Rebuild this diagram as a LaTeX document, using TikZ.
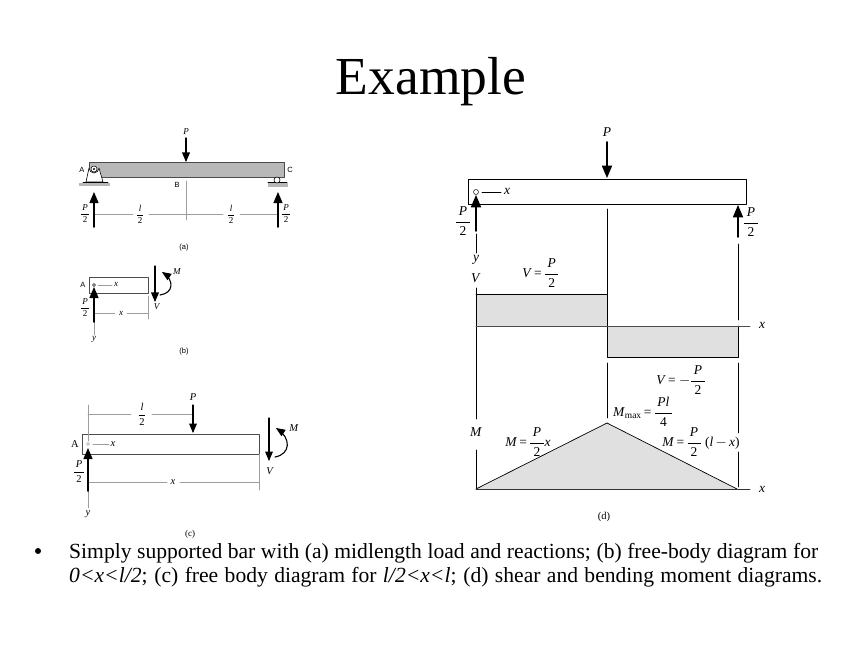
\documentclass[tikz,border=0pt]{standalone}
\usepackage{fontspec}
\setmainfont{Liberation Serif}
\newfontfamily\sanslab{Liberation Sans}
\usepackage{pgf,tikz}
\usetikzlibrary{arrows}
\definecolor{beamgray}{gray}{0.72}
\definecolor{diagramgray}{gray}{0.88}
\definecolor{dimgray}{gray}{0.62}
\newcommand{\fr}[2]{\ensuremath{\displaystyle\frac{\,\textit{#1}\,}{\textrm{#2}}}}
\newcommand{\vv}[1]{\textit{#1}}
\tikzset{
  tiny lab/.style={font=\fontsize{9}{10}\selectfont,inner sep=0pt},
  sans lab/.style={font=\sanslab\fontsize{7.5}{9}\selectfont,inner sep=0pt},
  mid lab/.style={font=\fontsize{10.5}{12}\selectfont,inner sep=0pt},
  big lab/.style={font=\fontsize{13.5}{15}\selectfont,inner sep=0pt},
  dimline/.style={color=dimgray,line width=0.8pt},
  loadarrow/.style={->,line width=1.6pt},
  heavyload/.style={->,line width=1.9pt},
  thinload/.style={->,line width=1.2pt},
  bodytext/.style={font=\fontsize{21.6}{25}\selectfont,inner sep=0pt,anchor=base west}
}
\begin{document}
\begin{tikzpicture}[line cap=round,line join=round,>=triangle 45,x=1pt,y=-1pt]
\useasboundingbox (0,0) rectangle (846,652);
\fill[white] (0,0) rectangle (846,652);
\node[inner sep=0pt,font=\fontsize{53.5}{60}\selectfont,anchor=base] (title) at (431,95) {Example};
% (a)
\fill[beamgray] (89,162) rectangle (284,177);
\draw[line width=0.7pt,color=black!70] (89,162) rectangle (284,177);
\fill[beamgray] (79,183) rectangle (110,186);
\fill[beamgray] (268,183) rectangle (288,187);
\draw[line width=0.8pt] (83,182)--(108,182);
\draw[line width=0.8pt] (268,182)--(287,182);
\draw[fill=white,line width=0.6pt] (86,182)--(89,168) arc (180:0:5)--(103,182)--cycle;
\draw[fill=white,line width=0.5pt] (94,169) circle (3);
\fill (94,169) circle (1.1);
\draw[fill=white,line width=0.6pt] (277,180) circle (3);
\draw[dimline] (186,181)--(186,220);
\draw[dimline] (94,214)--(133,214);
\draw[dimline] (149,214)--(223,214);
\draw[dimline] (240,214)--(278,214);
\draw[thinload] (186,138)--(186,162);
\draw[loadarrow] (94,227)--(94,192);
\draw[loadarrow] (278,227)--(278,192);
\node[tiny lab] (pa) at (186,132) {\vv{P}};
\node[sans lab] (aa) at (82,170) {A};
\node[sans lab] (ba) at (177,185) {B};
\node[sans lab] (ca) at (290,170) {C};
\node[tiny lab] (pla) at (85,214) {\fr{P}{2}};
\node[tiny lab] (pra) at (286,214) {\fr{P}{2}};
\node[tiny lab] (lla) at (140,214) {\fr{l}{2}};
\node[tiny lab] (lra) at (231,214) {\fr{l}{2}};
\node[sans lab] (capa) at (184,248) {(a)};
% (b)
\draw[line width=0.7pt,color=black!70] (89,277) rectangle (148,293);
\draw[line width=0.5pt] (94,285) circle (1.5);
\draw[dimline] (98,285)--(112,285);
\draw[dimline] (94,313)--(115,313);
\draw[dimline] (127,313)--(148,313);
\draw[dimline] (148,296)--(148,319);
\draw[dimline] (94,322)--(94,335);
\draw[loadarrow] (94,322)--(94,287);
\draw[thinload] (155,266)--(155,302);
\draw[->,line width=1.1pt] (160,295) .. controls (174,293) and (174,280) .. (162,272);
\node[sans lab] (ab) at (83,285) {A};
\node[tiny lab] (xb) at (116,284) {\vv{x}};
\node[tiny lab] (pb) at (85,308) {\fr{P}{2}};
\node[tiny lab] (xxb) at (121,313) {\vv{x}};
\node[tiny lab] (yb) at (94,339) {\vv{y}};
\node[tiny lab] (vb) at (157,307) {\vv{V}};
\node[tiny lab] (mb) at (177,272) {\vv{M}};
\node[sans lab] (capb) at (184,352) {(b)};
% (c)
\draw[line width=0.7pt,color=black!70] (82,434) rectangle (259,454);
\draw[dimgray,line width=0.5pt] (88,444) circle (1.5);
\draw[dimline] (93,444)--(109,444);
\draw[dimline] (88,405)--(88,441);
\draw[dimline] (88,491)--(88,508);
\draw[dimline] (88,414)--(131,414);
\draw[dimline] (152,414)--(193,414);
\draw[dimline] (88,482)--(167,482);
\draw[dimline] (180,482)--(259,482);
\draw[dimline] (259,454)--(259,490);
\draw[loadarrow] (88,491)--(88,448);
\draw[thinload] (193,405)--(193,433);
\draw[thinload] (269,418)--(269,461);
\draw[->,line width=1.1pt] (275,457) .. controls (291,454) and (291,438) .. (276,428);
\node[mid lab] (ac) at (75,444) {A};
\node[mid lab] (xc) at (113,444) {\vv{x}};
\node[mid lab] (pc) at (79,472) {\fr{P}{2}};
\node[mid lab] (lc) at (142,414) {\fr{l}{2}};
\node[mid lab] (ptc) at (193,397) {\vv{P}};
\node[mid lab] (xxc) at (173,482) {\vv{x}};
\node[mid lab] (yc) at (88,514) {\vv{y}};
\node[mid lab] (vc) at (270,471) {\vv{V}};
\node[mid lab] (mc) at (294,428) {\vv{M}};
\node[tiny lab] (capc) at (190,534) {(c)};
% (d)
\fill[diagramgray] (476,294) rectangle (607,326);
\fill[diagramgray] (607,326) rectangle (738,357);
\fill[diagramgray] (476,489)--(607,423)--(737,489)--cycle;
\draw[line width=0.7pt] (468,179) rectangle (746,204);
\draw[line width=0.5pt] (476,192) circle (2.5);
\draw[line width=0.6pt] (482,192)--(501,192);
\draw[line width=0.6pt] (476,234)--(476,253);
\draw[line width=0.6pt] (476,288)--(476,419);
\draw[line width=0.6pt] (476,450)--(476,488);
\draw[line width=0.6pt] (607,209)--(607,294);
\draw[line width=0.6pt] (607,363)--(607,418);
\draw[line width=0.6pt] (738,244)--(738,320);
\draw[line width=0.6pt] (738,363)--(738,433);
\draw[line width=0.6pt] (738,452)--(738,487);
\draw[line width=0.8pt] (476,294)--(607,294)--(607,357)--(738,357)--(738,326);
\draw[line width=0.8pt,color=black!70] (476,326)--(750,326);
\draw[line width=0.7pt] (476,489)--(607,423)--(737,489);
\draw[line width=0.8pt,color=black!80] (476,489)--(750,489);
\draw[heavyload] (607,142)--(607,178);
\draw[heavyload] (476,231)--(476,195);
\draw[heavyload] (738,237)--(738,205);
\node[big lab] (pd) at (607,132) {\vv{P}};
\node[big lab] (xd) at (507,191) {\vv{x}};
\node[big lab] (pld) at (463,221) {\fr{P}{2}};
\node[big lab] (prd) at (751,222) {\fr{P}{2}};
\node[big lab] (yd) at (476,260) {\vv{y}};
\node[big lab] (vd) at (476,278) {\vv{V}};
\node[big lab] (vpd) at (541,273) {\vv{V}\,=\,\fr{P}{2}};
\node[big lab] (xsd) at (762,325) {\vv{x}};
\node[big lab] (vnd) at (681,380) {\vv{V}\,= \(-\)\fr{P}{2}};
\node[big lab] (mmd) at (643,412) {\vv{M}\textsubscript{max}\,=\,\fr{Pl}{4}};
\node[big lab] (md) at (476,432) {\vv{M}};
\node[big lab] (mld) at (528,442) {\vv{M}\,=\,\fr{P}{2}\vv{x}};
\node[big lab] (mrd) at (701,442) {\vv{M}\,=\,\fr{P}{2} (\vv{l}\,\(-\)\,\vv{x})};
\node[big lab] (xmd) at (762,489) {\vv{x}};
\node[mid lab] (capd) at (604,517) {(d)};
% caption
\fill (38,551) circle (3);
\node[bodytext] (lineone) at (69,558) {\makebox[749pt][s]{Simply supported bar with (a) midlength load and reactions; (b) free-body diagram for}};
\node[bodytext] (linetwo) at (69,582) {\makebox[753pt][s]{\textit{0<x<l/2}; (c) free body diagram for \textit{l/2<x<l}; (d) shear and bending moment diagrams.}};
\end{tikzpicture}
\end{document}
